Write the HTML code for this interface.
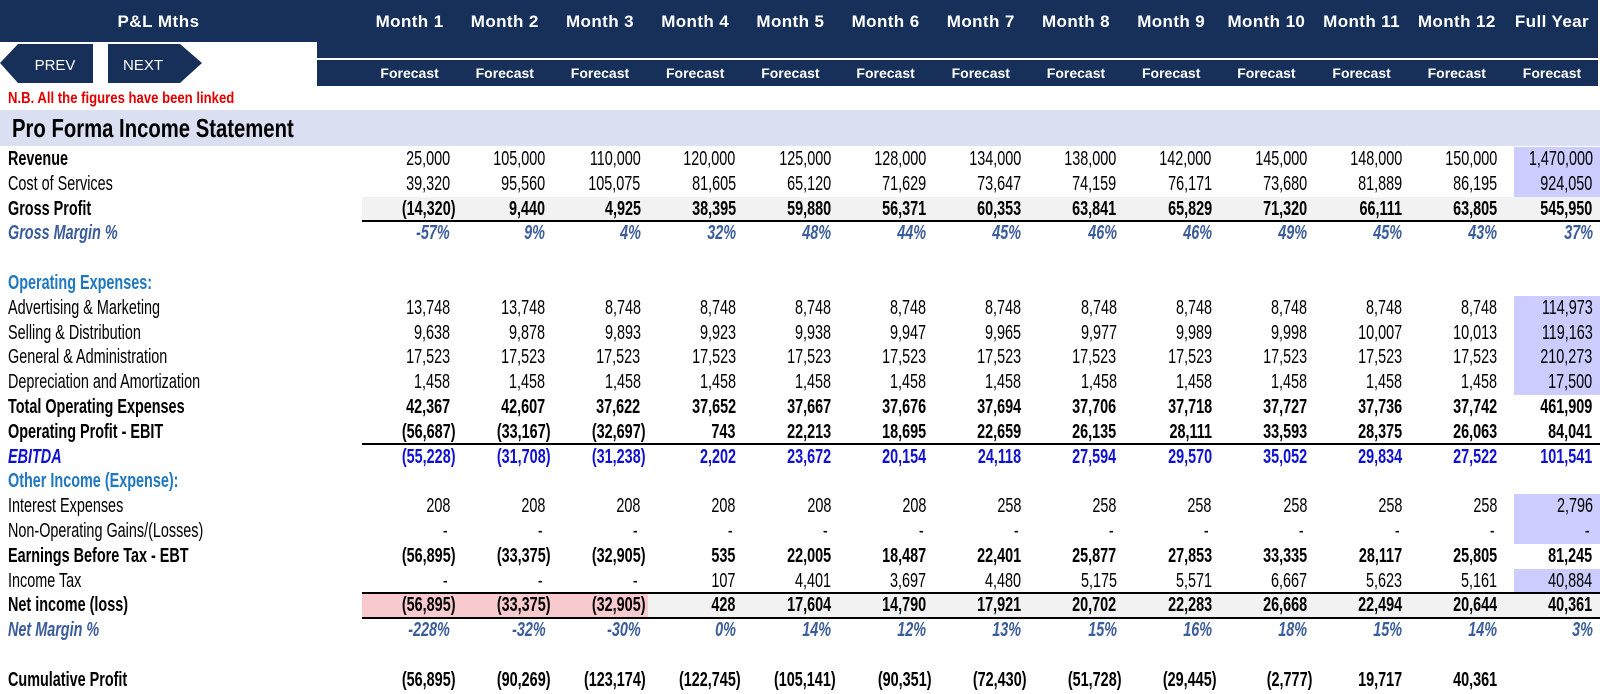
<!DOCTYPE html>
<html><head><meta charset="utf-8">
<style>
*{margin:0;padding:0;box-sizing:border-box}
html,body{width:1600px;height:694px;background:#fff;overflow:hidden;font-family:"Liberation Sans",Arial,sans-serif}
.abs{position:absolute}
.hdr{position:absolute;color:#fff;font-weight:bold;text-align:center;white-space:nowrap}
.row{position:absolute;left:0;width:1600px;height:24.8px}
.lab{position:absolute;left:8px;top:0;height:24.8px;line-height:24.8px;font-size:20px;white-space:nowrap;transform:scaleX(.72);transform-origin:left center}
.cell{position:absolute;top:0;height:24.8px;width:95.2px;line-height:24.8px;font-size:20px;text-align:right;white-space:nowrap}
.cell span{display:inline-block;transform:scaleX(.72);transform-origin:right center}
.b{font-weight:bold}
.pct{color:#3b5c9a;font-style:italic;font-weight:bold}
.ebitda{color:#1010d0;font-weight:bold}
.sec{color:#1f78c0;font-weight:bold}
</style></head><body>
<div class="abs" style="left:0;top:0;width:1598px;height:42px;background:#17305a"></div>
<div class="abs" style="left:317px;top:42px;width:1281px;height:16px;background:#17305a"></div>
<div class="abs" style="left:317px;top:60px;width:1281px;height:26px;background:#17305a"></div>
<div class="hdr" style="left:0;top:0;width:317px;line-height:44px;font-size:17px;letter-spacing:.5px">P&amp;L Mths</div>
<svg class="abs" style="left:0;top:43px" width="210" height="41">
<polygon points="0,20 18,1 93,1 93,40 18,40" fill="#17305a"/>
<polygon points="108,1 180,1 202,20 180,40 108,40" fill="#17305a"/>
<text x="55" y="27" fill="#fff" font-size="15" text-anchor="middle" font-family="Liberation Sans, sans-serif">PREV</text>
<text x="143" y="27" fill="#fff" font-size="15" text-anchor="middle" font-family="Liberation Sans, sans-serif">NEXT</text>
</svg>
<div class="abs" style="left:8px;top:88px;height:22px;line-height:22px;font-size:16px;font-weight:bold;color:#e00000;white-space:nowrap;transform:scaleX(.82);transform-origin:left center">N.B. All the figures have been linked</div>
<div class="abs" style="left:0;top:110px;width:1600px;height:36px;background:#dae0f2"></div>
<div class="abs" style="left:12px;top:110px;height:36px;line-height:37px;font-size:26px;font-weight:bold;color:#000;white-space:nowrap;transform:scaleX(.78);transform-origin:left center">Pro Forma Income Statement</div>
<div id="root"></div>
<script>
(function(){
var X0=362,W=95.2,T0=147,H=24.8;
var root=document.getElementById('root');
function add(h){root.insertAdjacentHTML('beforeend',h);}
var heads=['Month 1','Month 2','Month 3','Month 4','Month 5','Month 6','Month 7','Month 8','Month 9','Month 10','Month 11','Month 12','Full Year'];
for(var i=0;i<13;i++){
 var x=X0+i*W;
 add('<div class="hdr" style="left:'+x+'px;top:0;width:'+W+'px;line-height:44px;font-size:17px;letter-spacing:.4px">'+heads[i]+'</div>');
 add('<div class="hdr" style="left:'+x+'px;top:60px;width:'+W+'px;line-height:26px;font-size:14px">Forecast</div>');
}
function rep(v,n){var a=[];for(var i=0;i<n;i++)a.push(v);return a;}
var rows=[
['Revenue','b',['25,000','105,000','110,000','120,000','125,000','128,000','134,000','138,000','142,000','145,000','148,000','150,000','1,470,000'],'',1],
['Cost of Services','',['39,320','95,560','105,075','81,605','65,120','71,629','73,647','74,159','76,171','73,680','81,889','86,195','924,050'],'',1],
['Gross Profit','b',['(14,320)','9,440','4,925','38,395','59,880','56,371','60,353','63,841','65,829','71,320','66,111','63,805','545,950'],'b',0,'gray'],
['Gross Margin %','pct',['-57%','9%','4%','32%','48%','44%','45%','46%','46%','49%','45%','43%','37%'],'pct',0],
null,
['Operating Expenses:','sec',null],
['Advertising &amp; Marketing','',['13,748','13,748'].concat(rep('8,748',10)).concat(['114,973']),'',1],
['Selling &amp; Distribution','',['9,638','9,878','9,893','9,923','9,938','9,947','9,965','9,977','9,989','9,998','10,007','10,013','119,163'],'',1],
['General &amp; Administration','',rep('17,523',12).concat(['210,273']),'',1],
['Depreciation and Amortization','',rep('1,458',12).concat(['17,500']),'',1],
['Total Operating Expenses','b',['42,367','42,607','37,622','37,652','37,667','37,676','37,694','37,706','37,718','37,727','37,736','37,742','461,909'],'b',0],
['Operating Profit - EBIT','b',['(56,687)','(33,167)','(32,697)','743','22,213','18,695','22,659','26,135','28,111','33,593','28,375','26,063','84,041'],'b',0,'line'],
['EBITDA','ebitda" style="font-style:italic',['(55,228)','(31,708)','(31,238)','2,202','23,672','20,154','24,118','27,594','29,570','35,052','29,834','27,522','101,541'],'ebitda',0],
['Other Income (Expense):','sec',null],
['Interest Expenses','',rep('208',6).concat(rep('258',6)).concat(['2,796']),'',1],
['Non-Operating Gains/(Losses)','',rep('-',13),'',1],
['Earnings Before Tax - EBT','b',['(56,895)','(33,375)','(32,905)','535','22,005','18,487','22,401','25,877','27,853','33,335','28,117','25,805','81,245'],'b',0],
['Income Tax','',['-','-','-','107','4,401','3,697','4,480','5,175','5,571','6,667','5,623','5,161','40,884'],'',1],
['Net income (loss)','b',['(56,895)','(33,375)','(32,905)','428','17,604','14,790','17,921','20,702','22,283','26,668','22,494','20,644','40,361'],'b',0,'net'],
['Net Margin %','pct" style="font-style:italic',['-228%','-32%','-30%','0%','14%','12%','13%','15%','16%','18%','15%','14%','3%'],'pct',0],
null,
['Cumulative Profit','b',['(56,895)','(90,269)','(123,174)','(122,745)','(105,141)','(90,351)','(72,430)','(51,728)','(29,445)','(2,777)','19,717','40,361',''],'b',0]
];
for(var r=0;r<rows.length;r++){
 var R=rows[r]; if(!R)continue;
 var ty=T0+r*H;
 if(R[5]=='gray'||R[5]=='net'){
  add('<div class="abs" style="left:'+X0+'px;top:'+ty+'px;width:'+(1600-X0)+'px;height:'+H+'px;background:#f2f2f2"></div>');
 }
 if(R[5]=='net'){
  add('<div class="abs" style="left:'+X0+'px;top:'+ty+'px;width:'+(3*W)+'px;height:'+H+'px;background:#f8c9cd"></div>');
  add('<div class="abs" style="left:'+X0+'px;top:'+(ty-1)+'px;width:'+(1600-X0)+'px;height:2px;background:#000"></div>');
 }
 if(R[5]) add('<div class="abs" style="left:'+X0+'px;top:'+(ty+H-1.5)+'px;width:'+(1600-X0)+'px;height:2px;background:#000"></div>');
 if(R[4]) add('<div class="abs" style="left:'+(X0+12*W+10)+'px;top:'+ty+'px;width:'+(W-10)+'px;height:'+(H+0.5)+'px;background:#ccccff"></div>');
 add('<div class="row" style="top:'+ty+'px"><div class="lab '+R[1]+'">'+R[0]+'</div></div>');
 if(!R[2])continue;
 for(var c=0;c<13;c++){
  var v=R[2][c]; if(v==='')continue;
  var pr = v.charAt(0)=='('?2:(v=='-'?10:7);
  add('<div class="cell '+R[3]+'" style="left:'+(X0+c*W)+'px;top:'+ty+'px;padding-right:'+pr+'px"><span>'+v+'</span></div>');
 }
}
})();
</script>
</body></html>
